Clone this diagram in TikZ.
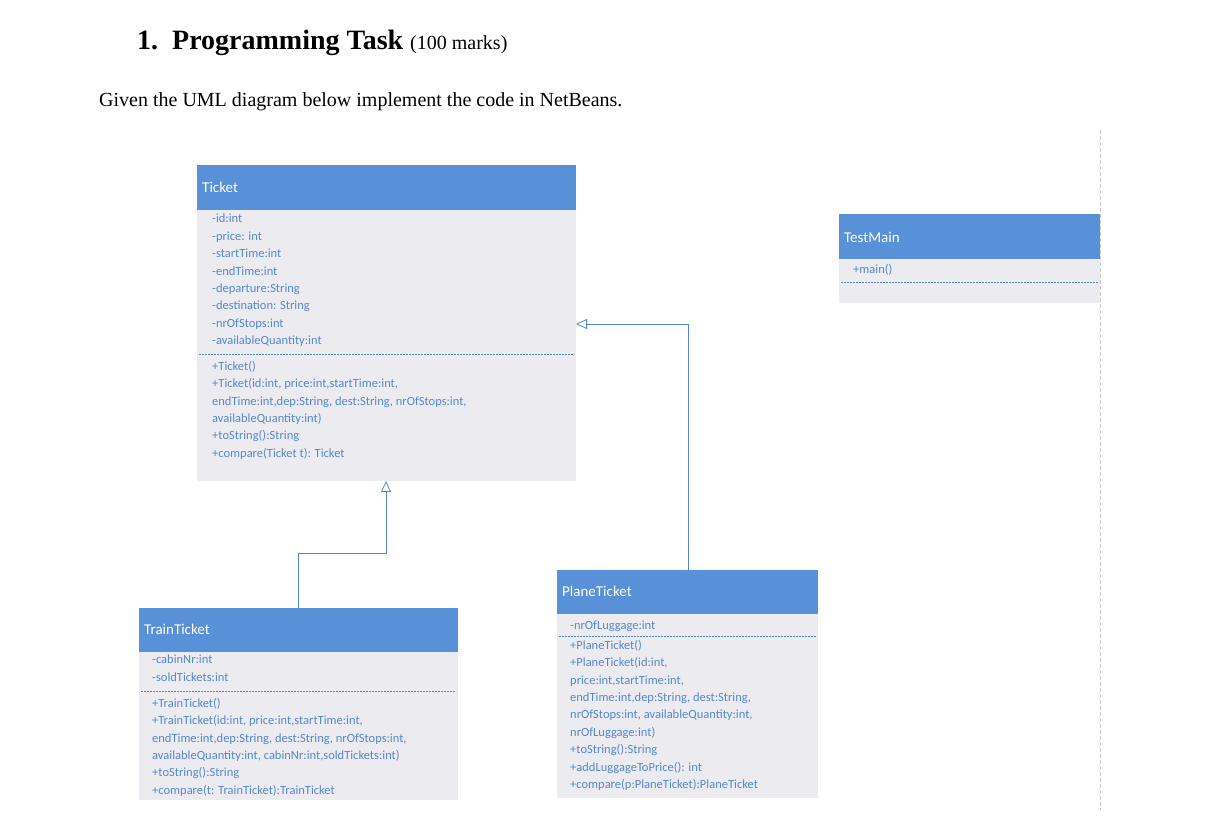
\documentclass[tikz,border=0pt]{standalone}
\usepackage{fontspec}
\setmainfont{Liberation Serif}
\newfontfamily\umlfont{Carlito}
\usetikzlibrary{arrows.meta}
\definecolor{hdr}{RGB}{88,145,215}
\definecolor{bodyc}{RGB}{236,236,240}
\definecolor{txt}{RGB}{85,135,205}
\begin{document}
\begin{tikzpicture}[x=1pt,y=-1pt,
  hdrbox/.style={fill=hdr,draw=none},
  bodybox/.style={fill=bodyc,draw=none},
  htext/.style={anchor=west,text=white,font=\umlfont\fontsize{15}{17}\selectfont,inner sep=0},
  ltext/.style={anchor=west,text=txt,font=\umlfont\fontsize{12.5}{17.4}\selectfont,inner sep=0,align=left},
  sep/.style={draw=txt,dashed,dash pattern=on 2pt off 1pt,line width=0.6pt},
  inh/.style={draw=txt,line width=0.8pt,-{Triangle[open,length=11pt,width=10pt]}}]
\useasboundingbox (0,0) rectangle (1222,834);
\fill[white] (0,0) rectangle (1222,834);
\node[anchor=base west,inner sep=0,font=\fontsize{28}{32}\selectfont] (title) at (137,50) {\textbf{1.\ \ Programming Task} {\fontsize{20}{24}\selectfont(100 marks)}};
\node[anchor=base west,inner sep=0,font=\fontsize{20}{24}\selectfont] (intro) at (99,107) {Given the UML diagram below implement the code in NetBeans.};
\draw[gray!40,dashed,dash pattern=on 4pt off 2pt] (1100,130) -- (1100,810);
% Ticket
\fill[bodybox] (197,210) rectangle (576,481);
\fill[hdrbox] (197,165) rectangle (576,210);
\node[htext] (tn) at (202,187) {Ticket};
\node[ltext,anchor=north west] (ta) at (212,214) {-id:int\\-price: int\\-startTime:int\\-endTime:int\\-departure:String\\-destination: String\\-nrOfStops:int\\-availableQuantity:int};
\draw[sep] (199,354) -- (574,354);
\node[ltext,anchor=north west] (tm) at (212,361) {+Ticket()\\+Ticket(id:int, price:int,startTime:int,\\endTime:int,dep:String, dest:String, nrOfStops:int,\\availableQuantity:int)\\+toString():String\\+compare(Ticket t): Ticket};
\coordinate (tbot) at (386,481);
\coordinate (tright) at (576,324);
% TestMain
\fill[bodybox] (839,259) rectangle (1100,303);
\fill[hdrbox] (839,214) rectangle (1100,259);
\node[htext] (mn) at (844,237) {TestMain};
\node[ltext] (mm) at (853,270) {+main()};
\draw[sep] (841,282) -- (1098,282);
% TrainTicket
\fill[bodybox] (139,652) rectangle (458,800);
\fill[hdrbox] (139,608) rectangle (458,652);
\node[htext] (rn) at (144,629) {TrainTicket};
\node[ltext,anchor=north west] (ra) at (152,655) {-cabinNr:int\\-soldTickets:int};
\draw[sep] (141,691) -- (456,691);
\node[ltext,anchor=north west] (rm) at (152,698) {+TrainTicket()\\+TrainTicket(id:int, price:int,startTime:int,\\endTime:int,dep:String, dest:String, nrOfStops:int,\\availableQuantity:int, cabinNr:int,soldTickets:int)\\+toString():String\\+compare(t: TrainTicket):TrainTicket};
\coordinate (rtop) at (298,608);
% PlaneTicket
\fill[bodybox] (557,614) rectangle (818,798);
\fill[hdrbox] (557,570) rectangle (818,614);
\node[htext] (pn) at (562,591) {PlaneTicket};
\node[ltext] (pa) at (570,626) {-nrOfLuggage:int};
\draw[sep] (559,636) -- (816,636);
\node[ltext,anchor=north west] (pm) at (570,640) {+PlaneTicket()\\+PlaneTicket(id:int,\\price:int,startTime:int,\\endTime:int,dep:String, dest:String,\\nrOfStops:int, availableQuantity:int,\\nrOfLuggage:int)\\+toString():String\\+addLuggageToPrice(): int\\+compare(p:PlaneTicket):PlaneTicket};
\coordinate (ptop) at (688,570);
% inheritance
\draw[inh] (rtop) -- (298,553) -- (386,553) -- (tbot);
\draw[inh] (ptop) -- (688,324) -- (tright);
\end{tikzpicture}
\end{document}
